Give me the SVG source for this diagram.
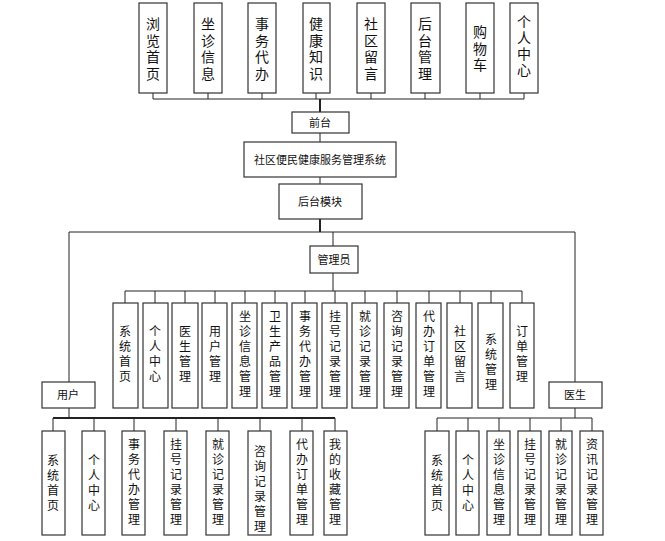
<svg xmlns="http://www.w3.org/2000/svg" width="665" height="541" viewBox="0 0 665 541">
<style>
rect{fill:#fff;stroke:#333;stroke-width:1.2}
text{font-family:"Noto Sans CJK SC",sans-serif;font-size:12px;fill:#111;text-anchor:middle}
.t text{font-size:14px}
.c line,.c polyline{stroke:#222;stroke-width:1;fill:none}
.b{stroke-width:2!important}
</style>
<rect x="0" y="0" width="665" height="541" style="fill:#fff;stroke:none"/>
<g class="c" id="connectors">
<line x1="153" y1="93" x2="153" y2="99"/><line x1="208" y1="93" x2="208" y2="99"/><line x1="262" y1="93" x2="262" y2="99"/><line x1="316" y1="93" x2="316" y2="99"/><line x1="371" y1="93" x2="371" y2="99"/><line x1="425" y1="93" x2="425" y2="99"/><line x1="480" y1="93" x2="480" y2="99"/><line x1="524" y1="93" x2="524" y2="99"/>
<line x1="153" y1="99" x2="524" y2="99"/>
<line x1="320" y1="99" x2="320" y2="112" class="b"/>
<line x1="320" y1="133" x2="320" y2="142"/>
<line x1="320" y1="177" x2="320" y2="184"/>
<line x1="320" y1="219" x2="320" y2="232" class="b"/>
<polyline points="69,382 69,232 575,232 575,382"/>
<line x1="333" y1="232" x2="333" y2="246"/>
<line x1="333" y1="273" x2="333" y2="291"/>
<line x1="125" y1="291" x2="522" y2="291"/>
<line x1="125" y1="291" x2="125" y2="303"/><line x1="155" y1="291" x2="155" y2="303"/><line x1="185" y1="291" x2="185" y2="303"/><line x1="215" y1="291" x2="215" y2="303"/><line x1="245" y1="291" x2="245" y2="303"/><line x1="275" y1="291" x2="275" y2="303"/><line x1="305" y1="291" x2="305" y2="303"/><line x1="335" y1="291" x2="335" y2="303"/><line x1="365" y1="291" x2="365" y2="303"/><line x1="397" y1="291" x2="397" y2="303"/><line x1="429" y1="291" x2="429" y2="303"/><line x1="460" y1="291" x2="460" y2="303"/><line x1="491" y1="291" x2="491" y2="303"/><line x1="522" y1="291" x2="522" y2="303"/>
<line x1="69" y1="408" x2="69" y2="418"/>
<line x1="53" y1="418" x2="335" y2="418" class="b"/>
<line x1="53" y1="418" x2="53" y2="431"/><line x1="94" y1="418" x2="94" y2="431"/><line x1="134" y1="418" x2="134" y2="431"/><line x1="176" y1="418" x2="176" y2="431"/><line x1="218" y1="418" x2="218" y2="431"/><line x1="260" y1="418" x2="260" y2="431"/><line x1="302" y1="418" x2="302" y2="431"/><line x1="335" y1="418" x2="335" y2="431"/>
<line x1="575" y1="408" x2="575" y2="418"/>
<line x1="437" y1="418" x2="592" y2="418"/>
<line x1="437" y1="418" x2="437" y2="431"/><line x1="468" y1="418" x2="468" y2="431"/><line x1="499" y1="418" x2="499" y2="431"/><line x1="530" y1="418" x2="530" y2="431"/><line x1="561" y1="418" x2="561" y2="431"/><line x1="592" y1="418" x2="592" y2="431"/>
</g>
<g id="top" class="t">
<g id="t1"><rect x="139" y="3" width="28" height="90"/><text x="153" y="29"><tspan x="153">浏</tspan><tspan x="153" dy="16.5">览</tspan><tspan x="153" dy="16.5">首</tspan><tspan x="153" dy="16.5">页</tspan></text></g>
<g id="t2"><rect x="194" y="3" width="28" height="90"/><text x="208" y="29"><tspan x="208">坐</tspan><tspan x="208" dy="16.5">诊</tspan><tspan x="208" dy="16.5">信</tspan><tspan x="208" dy="16.5">息</tspan></text></g>
<g id="t3"><rect x="248" y="3" width="28" height="90"/><text x="262" y="29"><tspan x="262">事</tspan><tspan x="262" dy="16.5">务</tspan><tspan x="262" dy="16.5">代</tspan><tspan x="262" dy="16.5">办</tspan></text></g>
<g id="t4"><rect x="303" y="3" width="27" height="90"/><text x="316" y="29"><tspan x="316">健</tspan><tspan x="316" dy="16.5">康</tspan><tspan x="316" dy="16.5">知</tspan><tspan x="316" dy="16.5">识</tspan></text></g>
<g id="t5"><rect x="357" y="3" width="28" height="90"/><text x="371" y="29"><tspan x="371">社</tspan><tspan x="371" dy="16.5">区</tspan><tspan x="371" dy="16.5">留</tspan><tspan x="371" dy="16.5">言</tspan></text></g>
<g id="t6"><rect x="411" y="3" width="29" height="90"/><text x="425" y="29"><tspan x="425">后</tspan><tspan x="425" dy="16.5">台</tspan><tspan x="425" dy="16.5">管</tspan><tspan x="425" dy="16.5">理</tspan></text></g>
<g id="t7"><rect x="466" y="3" width="28" height="90"/><text x="480" y="37"><tspan x="480">购</tspan><tspan x="480" dy="16.5">物</tspan><tspan x="480" dy="16.5">车</tspan></text></g>
<g id="t8"><rect x="510" y="3" width="28" height="90"/><text x="524" y="27"><tspan x="524">个</tspan><tspan x="524" dy="16">人</tspan><tspan x="524" dy="16">中</tspan><tspan x="524" dy="16">心</tspan></text></g>
</g>
<g id="qiantai"><rect x="292" y="112" width="57" height="21"/><text x="320" y="127" style="font-size:11px">前台</text></g>
<g id="system"><rect x="244" y="142" width="152" height="35"/><text x="320" y="164" style="font-size:11px">社区便民健康服务管理系统</text></g>
<g id="houtai"><rect x="279" y="184" width="83" height="35"/><text x="320" y="206" style="font-size:11px">后台模块</text></g>
<g id="admin"><rect x="310" y="246" width="48" height="27"/><text x="334" y="264" style="font-size:11px">管理员</text></g>
<g id="user"><rect x="42" y="382" width="53" height="26"/><text x="68" y="399" style="font-size:11px">用户</text></g>
<g id="doctor"><rect x="549" y="382" width="53" height="26"/><text x="575" y="399" style="font-size:11px">医生</text></g>
<g id="admin-children">
<g id="a1"><rect x="113" y="303" width="25" height="105"/><text x="125" y="336"><tspan x="125">系</tspan><tspan x="125" dy="15">统</tspan><tspan x="125" dy="15">首</tspan><tspan x="125" dy="15">页</tspan></text></g>
<g id="a2"><rect x="143" y="303" width="25" height="105"/><text x="155" y="336"><tspan x="155">个</tspan><tspan x="155" dy="15">人</tspan><tspan x="155" dy="15">中</tspan><tspan x="155" dy="15">心</tspan></text></g>
<g id="a3"><rect x="172" y="303" width="26" height="105"/><text x="185" y="336"><tspan x="185">医</tspan><tspan x="185" dy="15">生</tspan><tspan x="185" dy="15">管</tspan><tspan x="185" dy="15">理</tspan></text></g>
<g id="a4"><rect x="202" y="303" width="25" height="105"/><text x="215" y="336"><tspan x="215">用</tspan><tspan x="215" dy="15">户</tspan><tspan x="215" dy="15">管</tspan><tspan x="215" dy="15">理</tspan></text></g>
<g id="a5"><rect x="232" y="303" width="25" height="105"/><text x="245" y="321"><tspan x="245">坐</tspan><tspan x="245" dy="15">诊</tspan><tspan x="245" dy="15">信</tspan><tspan x="245" dy="15">息</tspan><tspan x="245" dy="15">管</tspan><tspan x="245" dy="15">理</tspan></text></g>
<g id="a6"><rect x="262" y="303" width="25" height="105"/><text x="275" y="321"><tspan x="275">卫</tspan><tspan x="275" dy="15">生</tspan><tspan x="275" dy="15">产</tspan><tspan x="275" dy="15">品</tspan><tspan x="275" dy="15">管</tspan><tspan x="275" dy="15">理</tspan></text></g>
<g id="a7"><rect x="292" y="303" width="25" height="105"/><text x="305" y="321"><tspan x="305">事</tspan><tspan x="305" dy="15">务</tspan><tspan x="305" dy="15">代</tspan><tspan x="305" dy="15">办</tspan><tspan x="305" dy="15">管</tspan><tspan x="305" dy="15">理</tspan></text></g>
<g id="a8"><rect x="322" y="303" width="25" height="105"/><text x="335" y="321"><tspan x="335">挂</tspan><tspan x="335" dy="15">号</tspan><tspan x="335" dy="15">记</tspan><tspan x="335" dy="15">录</tspan><tspan x="335" dy="15">管</tspan><tspan x="335" dy="15">理</tspan></text></g>
<g id="a9"><rect x="352" y="303" width="25" height="105"/><text x="365" y="321"><tspan x="365">就</tspan><tspan x="365" dy="15">诊</tspan><tspan x="365" dy="15">记</tspan><tspan x="365" dy="15">录</tspan><tspan x="365" dy="15">管</tspan><tspan x="365" dy="15">理</tspan></text></g>
<g id="a10"><rect x="384" y="303" width="25" height="105"/><text x="397" y="321"><tspan x="397">咨</tspan><tspan x="397" dy="15">询</tspan><tspan x="397" dy="15">记</tspan><tspan x="397" dy="15">录</tspan><tspan x="397" dy="15">管</tspan><tspan x="397" dy="15">理</tspan></text></g>
<g id="a11"><rect x="416" y="303" width="25" height="105"/><text x="429" y="321"><tspan x="429">代</tspan><tspan x="429" dy="15">办</tspan><tspan x="429" dy="15">订</tspan><tspan x="429" dy="15">单</tspan><tspan x="429" dy="15">管</tspan><tspan x="429" dy="15">理</tspan></text></g>
<g id="a12"><rect x="447" y="303" width="25" height="105"/><text x="460" y="336"><tspan x="460">社</tspan><tspan x="460" dy="15">区</tspan><tspan x="460" dy="15">留</tspan><tspan x="460" dy="15">言</tspan></text></g>
<g id="a13"><rect x="478" y="303" width="25" height="105"/><text x="491" y="344"><tspan x="491">系</tspan><tspan x="491" dy="15">统</tspan><tspan x="491" dy="15">管</tspan><tspan x="491" dy="15">理</tspan></text></g>
<g id="a14"><rect x="510" y="303" width="24" height="105"/><text x="522" y="336"><tspan x="522">订</tspan><tspan x="522" dy="15">单</tspan><tspan x="522" dy="15">管</tspan><tspan x="522" dy="15">理</tspan></text></g>
</g>
<g id="user-children">
<g id="u1"><rect x="42" y="431" width="23" height="104"/><text x="53" y="465"><tspan x="53">系</tspan><tspan x="53" dy="15">统</tspan><tspan x="53" dy="15">首</tspan><tspan x="53" dy="15">页</tspan></text></g>
<g id="u2"><rect x="82" y="431" width="23" height="104"/><text x="94" y="465"><tspan x="94">个</tspan><tspan x="94" dy="15">人</tspan><tspan x="94" dy="15">中</tspan><tspan x="94" dy="15">心</tspan></text></g>
<g id="u3"><rect x="122" y="431" width="23" height="104"/><text x="134" y="449"><tspan x="134">事</tspan><tspan x="134" dy="15">务</tspan><tspan x="134" dy="15">代</tspan><tspan x="134" dy="15">办</tspan><tspan x="134" dy="15">管</tspan><tspan x="134" dy="15">理</tspan></text></g>
<g id="u4"><rect x="164" y="431" width="23" height="104"/><text x="176" y="449"><tspan x="176">挂</tspan><tspan x="176" dy="15">号</tspan><tspan x="176" dy="15">记</tspan><tspan x="176" dy="15">录</tspan><tspan x="176" dy="15">管</tspan><tspan x="176" dy="15">理</tspan></text></g>
<g id="u5"><rect x="206" y="431" width="23" height="104"/><text x="218" y="449"><tspan x="218">就</tspan><tspan x="218" dy="15">诊</tspan><tspan x="218" dy="15">记</tspan><tspan x="218" dy="15">录</tspan><tspan x="218" dy="15">管</tspan><tspan x="218" dy="15">理</tspan></text></g>
<g id="u6"><rect x="248" y="431" width="23" height="104"/><text x="260" y="456"><tspan x="260">咨</tspan><tspan x="260" dy="15">询</tspan><tspan x="260" dy="15">记</tspan><tspan x="260" dy="15">录</tspan><tspan x="260" dy="15">管</tspan><tspan x="260" dy="15">理</tspan></text></g>
<g id="u7"><rect x="290" y="431" width="23" height="104"/><text x="302" y="449"><tspan x="302">代</tspan><tspan x="302" dy="15">办</tspan><tspan x="302" dy="15">订</tspan><tspan x="302" dy="15">单</tspan><tspan x="302" dy="15">管</tspan><tspan x="302" dy="15">理</tspan></text></g>
<g id="u8"><rect x="324" y="431" width="23" height="104"/><text x="335" y="449"><tspan x="335">我</tspan><tspan x="335" dy="15">的</tspan><tspan x="335" dy="15">收</tspan><tspan x="335" dy="15">藏</tspan><tspan x="335" dy="15">管</tspan><tspan x="335" dy="15">理</tspan></text></g>
</g>
<g id="doctor-children">
<g id="d1"><rect x="425" y="431" width="24" height="104"/><text x="437" y="465"><tspan x="437">系</tspan><tspan x="437" dy="15">统</tspan><tspan x="437" dy="15">首</tspan><tspan x="437" dy="15">页</tspan></text></g>
<g id="d2"><rect x="456" y="431" width="23" height="104"/><text x="468" y="465"><tspan x="468">个</tspan><tspan x="468" dy="15">人</tspan><tspan x="468" dy="15">中</tspan><tspan x="468" dy="15">心</tspan></text></g>
<g id="d3"><rect x="487" y="431" width="23" height="104"/><text x="499" y="449"><tspan x="499">坐</tspan><tspan x="499" dy="15">诊</tspan><tspan x="499" dy="15">信</tspan><tspan x="499" dy="15">息</tspan><tspan x="499" dy="15">管</tspan><tspan x="499" dy="15">理</tspan></text></g>
<g id="d4"><rect x="518" y="431" width="23" height="104"/><text x="530" y="449"><tspan x="530">挂</tspan><tspan x="530" dy="15">号</tspan><tspan x="530" dy="15">记</tspan><tspan x="530" dy="15">录</tspan><tspan x="530" dy="15">管</tspan><tspan x="530" dy="15">理</tspan></text></g>
<g id="d5"><rect x="549" y="431" width="23" height="104"/><text x="561" y="449"><tspan x="561">就</tspan><tspan x="561" dy="15">诊</tspan><tspan x="561" dy="15">记</tspan><tspan x="561" dy="15">录</tspan><tspan x="561" dy="15">管</tspan><tspan x="561" dy="15">理</tspan></text></g>
<g id="d6"><rect x="580" y="431" width="23" height="104"/><text x="592" y="449"><tspan x="592">资</tspan><tspan x="592" dy="15">讯</tspan><tspan x="592" dy="15">记</tspan><tspan x="592" dy="15">录</tspan><tspan x="592" dy="15">管</tspan><tspan x="592" dy="15">理</tspan></text></g>
</g>
</svg>
